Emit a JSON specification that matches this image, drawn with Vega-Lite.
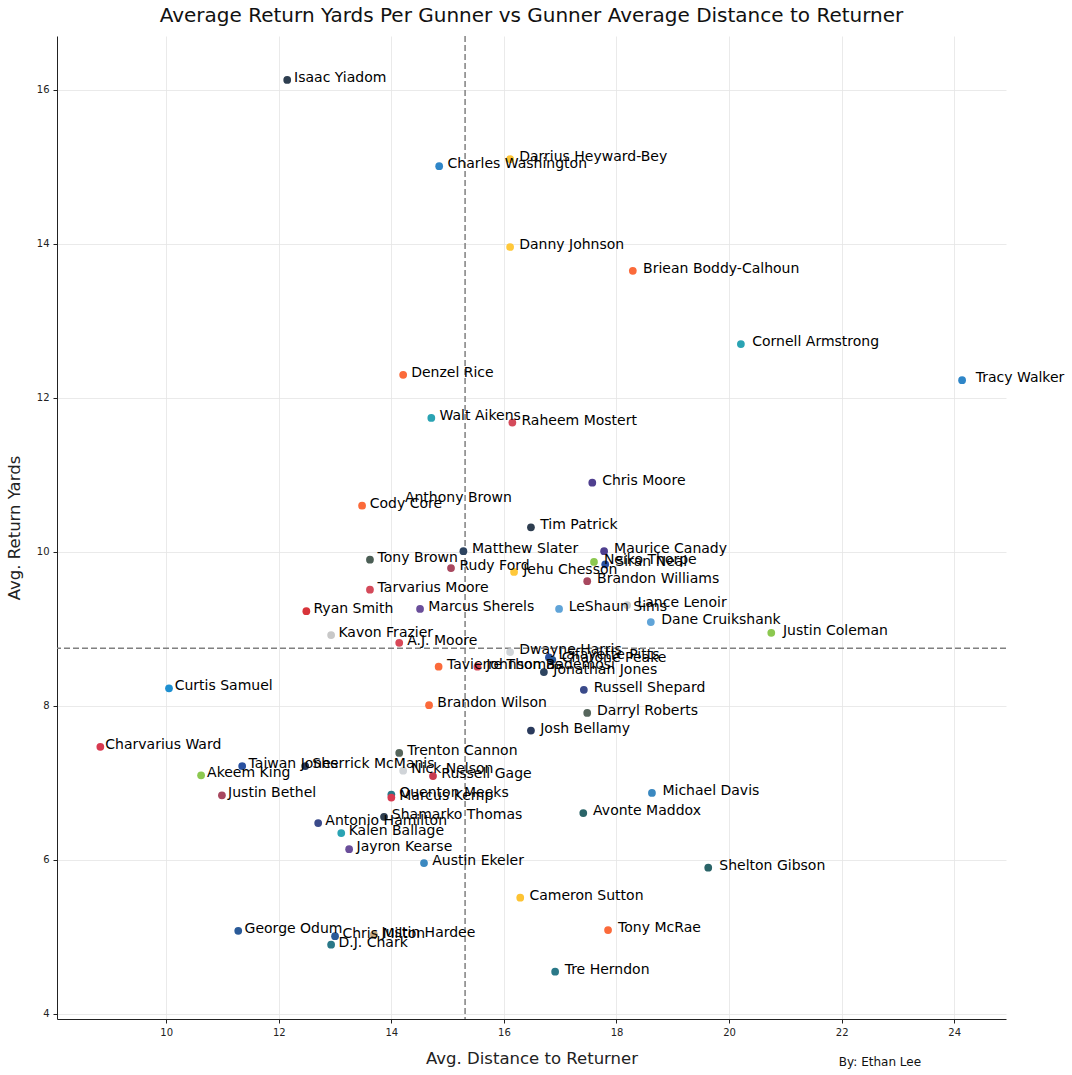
{
  "$schema": "https://vega.github.io/schema/vega-lite/v6.json",
  "autosize": "none",
  "width": 949,
  "height": 983,
  "padding": {"left": 57, "top": 36, "right": 66, "bottom": 56},
  "background": "white",
  "config": {
    "view": {"stroke": null},
    "font": "DejaVu Sans",
    "axis": {
      "domainColor": "#222222",
      "tickColor": "#222222",
      "tickSize": 4,
      "labelFont": "DejaVu Sans",
      "labelFontSize": 10,
      "labelColor": "#222222",
      "titleFont": "DejaVu Sans",
      "titleFontSize": 16.5,
      "titleFontWeight": "normal",
      "titleColor": "#222222",
      "gridColor": "#e4e4e4",
      "gridWidth": 0.8
    }
  },
  "title": {
    "text": "Average Return Yards Per Gunner vs Gunner Average Distance to Returner",
    "font": "DejaVu Sans",
    "fontSize": 20,
    "fontWeight": "normal",
    "color": "#111111",
    "anchor": "middle",
    "offset": 9
  },
  "datasets": {
    "players": [
      {"name": "Isaac Yiadom", "dist": 12.15, "ret": 16.13, "team": "DEN"},
      {"name": "Darrius Heyward-Bey", "dist": 16.11, "ret": 15.10, "team": "PIT"},
      {"name": "Charles Washington", "dist": 14.85, "ret": 15.01, "team": "DET"},
      {"name": "Danny Johnson", "dist": 16.11, "ret": 13.96, "team": "WAS"},
      {"name": "Briean Boddy-Calhoun", "dist": 18.29, "ret": 13.65, "team": "CLE"},
      {"name": "Cornell Armstrong", "dist": 20.21, "ret": 12.70, "team": "MIA"},
      {"name": "Tracy Walker", "dist": 24.14, "ret": 12.23, "team": "DET"},
      {"name": "Denzel Rice", "dist": 14.21, "ret": 12.30, "team": "CLE"},
      {"name": "Walt Aikens", "dist": 14.71, "ret": 11.74, "team": "MIA"},
      {"name": "Raheem Mostert", "dist": 16.15, "ret": 11.68, "team": "SF"},
      {"name": "Chris Moore", "dist": 17.57, "ret": 10.90, "team": "BAL"},
      {"name": "Anthony Brown", "dist": 14.10, "ret": 10.68, "team": "UNK"},
      {"name": "Cody Core", "dist": 13.48, "ret": 10.60, "team": "CIN"},
      {"name": "Tim Patrick", "dist": 16.48, "ret": 10.32, "team": "DEN"},
      {"name": "Matthew Slater", "dist": 15.28, "ret": 10.01, "team": "NE"},
      {"name": "Maurice Canady", "dist": 17.78, "ret": 10.01, "team": "BAL"},
      {"name": "Tony Brown", "dist": 13.62, "ret": 9.90, "team": "GB"},
      {"name": "Neiko Thorpe", "dist": 17.60, "ret": 9.87, "team": "SEA"},
      {"name": "Siran Neal", "dist": 17.80, "ret": 9.84, "team": "BUF"},
      {"name": "Rudy Ford", "dist": 15.06, "ret": 9.79, "team": "ARI"},
      {"name": "Jehu Chesson", "dist": 16.18, "ret": 9.74, "team": "WAS"},
      {"name": "Brandon Williams", "dist": 17.48, "ret": 9.62, "team": "ARI"},
      {"name": "Tarvarius Moore", "dist": 13.62, "ret": 9.51, "team": "SF"},
      {"name": "Ryan Smith", "dist": 12.49, "ret": 9.23, "team": "TB"},
      {"name": "Marcus Sherels", "dist": 14.51, "ret": 9.26, "team": "MIN"},
      {"name": "LeShaun Sims", "dist": 16.98, "ret": 9.26, "team": "TEN"},
      {"name": "Lance Lenoir", "dist": 18.19, "ret": 9.31, "team": "DAL"},
      {"name": "Dane Cruikshank", "dist": 18.61, "ret": 9.09, "team": "TEN"},
      {"name": "Justin Coleman", "dist": 20.75, "ret": 8.95, "team": "SEA"},
      {"name": "Kavon Frazier", "dist": 12.93, "ret": 8.92, "team": "DAL"},
      {"name": "A.J. Moore", "dist": 14.14, "ret": 8.82, "team": "HOU"},
      {"name": "Dwayne Harris", "dist": 16.11, "ret": 8.70, "team": "OAK"},
      {"name": "Tavierre Thomas", "dist": 14.84, "ret": 8.51, "team": "CLE"},
      {"name": "Johnson Bademosi", "dist": 15.53, "ret": 8.51, "team": "HOU"},
      {"name": "Lafayette Pitts", "dist": 16.80, "ret": 8.63, "team": "BUF"},
      {"name": "Charone Peake", "dist": 16.86, "ret": 8.60, "team": "IND"},
      {"name": "Jonathan Jones", "dist": 16.71, "ret": 8.44, "team": "NE"},
      {"name": "Curtis Samuel", "dist": 10.05, "ret": 8.23, "team": "CAR"},
      {"name": "Russell Shepard", "dist": 17.42, "ret": 8.21, "team": "NYG"},
      {"name": "Brandon Wilson", "dist": 14.67, "ret": 8.01, "team": "CIN"},
      {"name": "Darryl Roberts", "dist": 17.48, "ret": 7.91, "team": "NYJ"},
      {"name": "Josh Bellamy", "dist": 16.48, "ret": 7.68, "team": "CHI"},
      {"name": "Charvarius Ward", "dist": 8.83, "ret": 7.47, "team": "KC"},
      {"name": "Trenton Cannon", "dist": 14.14, "ret": 7.39, "team": "NYJ"},
      {"name": "Taiwan Jones", "dist": 11.35, "ret": 7.22, "team": "BUF"},
      {"name": "Sherrick McManis", "dist": 12.47, "ret": 7.22, "team": "CHI"},
      {"name": "Nick Nelson", "dist": 14.21, "ret": 7.16, "team": "OAK"},
      {"name": "Russell Gage", "dist": 14.74, "ret": 7.09, "team": "ATL"},
      {"name": "Akeem King", "dist": 10.62, "ret": 7.10, "team": "SEA"},
      {"name": "Justin Bethel", "dist": 10.99, "ret": 6.84, "team": "ARI"},
      {"name": "Quenton Meeks", "dist": 14.00, "ret": 6.85, "team": "JAX"},
      {"name": "Marcus Kemp", "dist": 14.00, "ret": 6.81, "team": "KC"},
      {"name": "Michael Davis", "dist": 18.63, "ret": 6.87, "team": "LAC"},
      {"name": "Avonte Maddox", "dist": 17.41, "ret": 6.61, "team": "PHI"},
      {"name": "Shamarko Thomas", "dist": 13.87, "ret": 6.56, "team": "DEN"},
      {"name": "Antonio Hamilton", "dist": 12.70, "ret": 6.48, "team": "NYG"},
      {"name": "Kalen Ballage", "dist": 13.11, "ret": 6.35, "team": "MIA"},
      {"name": "Jayron Kearse", "dist": 13.25, "ret": 6.14, "team": "MIN"},
      {"name": "Austin Ekeler", "dist": 14.58, "ret": 5.96, "team": "LAC"},
      {"name": "Shelton Gibson", "dist": 19.63, "ret": 5.90, "team": "PHI"},
      {"name": "Cameron Sutton", "dist": 16.29, "ret": 5.51, "team": "PIT"},
      {"name": "George Odum", "dist": 11.28, "ret": 5.08, "team": "IND"},
      {"name": "Tony McRae", "dist": 17.85, "ret": 5.09, "team": "CIN"},
      {"name": "Chris Milton", "dist": 13.00, "ret": 5.01, "team": "IND"},
      {"name": "Justin Hardee", "dist": 13.69, "ret": 5.03, "team": "NO"},
      {"name": "D.J. Chark", "dist": 12.93, "ret": 4.90, "team": "JAX"},
      {"name": "Tre Herndon", "dist": 16.91, "ret": 4.55, "team": "JAX"}
    ]
  },
  "layer": [
    {
      "data": {"values": [{"ref": "mean distance", "v": 15.31}]},
      "mark": {"type": "rule", "color": "#808080", "strokeDash": [6, 3], "strokeWidth": 1.5},
      "encoding": {"x": {"field": "v", "type": "quantitative"}}
    },
    {
      "data": {"values": [{"ref": "mean return", "v": 8.75}]},
      "mark": {"type": "rule", "color": "#808080", "strokeDash": [6, 3], "strokeWidth": 1.5},
      "encoding": {"y": {"field": "v", "type": "quantitative"}}
    },
    {
      "data": {"name": "players"},
      "mark": {"type": "circle", "size": 60, "opacity": 1},
      "encoding": {
        "x": {
          "field": "dist", "type": "quantitative",
          "scale": {"domain": [8.06, 24.92], "nice": false, "zero": false},
          "axis": {"values": [10, 12, 14, 16, 18, 20, 22, 24], "format": "d", "title": "Avg. Distance to Returner", "titlePadding": 13, "labelPadding": 4}
        },
        "y": {
          "field": "ret", "type": "quantitative",
          "scale": {"domain": [3.935, 16.70], "nice": false, "zero": false},
          "axis": {"values": [4, 6, 8, 10, 12, 14, 16], "format": "d", "title": "Avg. Return Yards", "titlePadding": 14, "labelPadding": 4}
        },
        "color": {
          "field": "team", "type": "nominal", "legend": null,
          "scale": {
            "domain": ["DEN", "PIT", "DET", "WAS", "CLE", "MIA", "SF", "BAL", "UNK", "CIN", "NE", "GB", "SEA", "BUF", "ARI", "TB", "MIN", "TEN", "DAL", "HOU", "OAK", "IND", "CAR", "NYG", "NYJ", "CHI", "KC", "ATL", "JAX", "LAC", "PHI", "NO"],
            "range": ["#2e3e50", "#fdc333", "#2f86c8", "#ffc83a", "#fb6a3a", "#2aa3b3", "#d44a5a", "#4f3f8f", "#ffffff", "#fb6a3a", "#2d4460", "#4b5e55", "#8cc850", "#2850a0", "#a8485f", "#d8343a", "#6a4e9a", "#60a4d8", "#c8c8c8", "#d84858", "#d0d4d8", "#2a5a98", "#1e8fd0", "#3a4a8a", "#56665c", "#2a3a5c", "#d83a50", "#c83a50", "#2a7888", "#3a88c0", "#2a6468", "#c8ab7f"]
          }
        }
      }
    },
    {
      "data": {"name": "players"},
      "mark": {"type": "text", "align": "left", "baseline": "middle", "dx": {"expr": "datum.dist * 0.563"}, "dy": -2, "fontSize": 14, "font": "DejaVu Sans", "color": "#000000"},
      "encoding": {
        "x": {"field": "dist", "type": "quantitative"},
        "y": {"field": "ret", "type": "quantitative"},
        "text": {"field": "name", "type": "nominal"}
      }
    },
    {
      "data": {"values": [{"credit": "By: Ethan Lee", "cx": 21.95, "cy": 3.935}]},
      "mark": {"type": "text", "align": "left", "baseline": "middle", "dy": 43, "fontSize": 12, "font": "DejaVu Sans", "color": "#111111"},
      "encoding": {
        "x": {"field": "cx", "type": "quantitative"},
        "y": {"field": "cy", "type": "quantitative"},
        "text": {"field": "credit", "type": "nominal"}
      }
    }
  ]
}
